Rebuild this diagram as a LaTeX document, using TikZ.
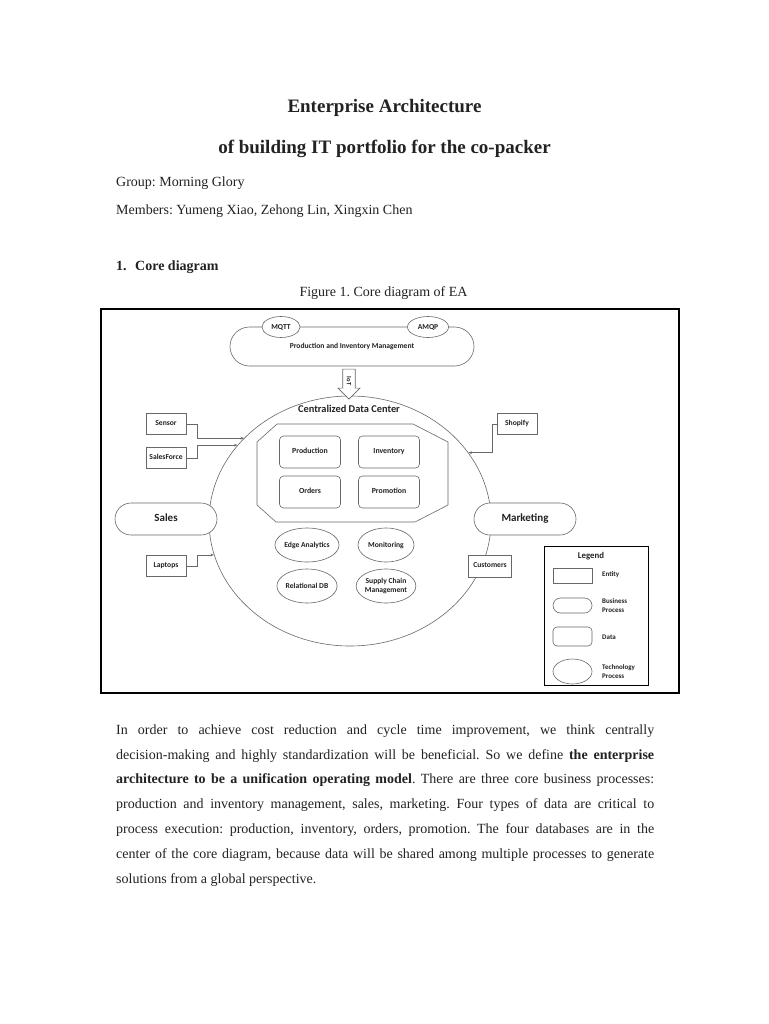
\documentclass[tikz,border=0pt]{standalone}
\usepackage{fontspec}
\setmainfont{Liberation Serif}
\newfontfamily\dfont{Carlito}
\usetikzlibrary{shapes.geometric,shapes.arrows,shapes.misc,arrows.meta}
\definecolor{linegray}{HTML}{686868}
\definecolor{ink}{HTML}{222222}
\newcommand{\dsz}[1]{\dfont\bfseries\fontsize{#1}{#1}\selectfont}
\frenchspacing
\begin{document}
\frenchspacing
\begin{tikzpicture}[x=1pt,y=-1pt,
  every node/.style={text=ink},
  pg/.style={inner sep=0pt, font=\fontsize{14}{17}\selectfont},
  pgb/.style={inner sep=0pt, font=\bfseries\fontsize{14}{17}\selectfont},
  ttl/.style={inner sep=0pt, anchor=mid, font=\bfseries\fontsize{19}{22}\selectfont},
  thin/.style={draw=linegray, line width=0.6pt},
  ent/.style={thin, fill=white, minimum width=40pt, minimum height=21pt, inner sep=0pt, text height=5.4pt, text depth=1.6pt, font=\dsz{7.6}},
  datab/.style={thin, fill=white, rounded corners=4pt, minimum width=61pt, minimum height=32pt, inner sep=0pt, text height=5.5pt, text depth=1.6pt, font=\dsz{7.8}},
  tech/.style={thin, fill=white, ellipse, minimum width=56pt, minimum height=34pt, inner sep=0pt, align=center, font=\dsz{7.6}},
  bproc/.style={thin, fill=white, rounded rectangle, minimum width=102pt, minimum height=32pt, inner sep=0pt, text height=7.8pt, text depth=2.2pt, font=\dsz{11}},
  proto/.style={thin, fill=white, ellipse, minimum height=21pt, inner sep=0pt, font=\dsz{7.6}},
  conn/.style={draw=linegray, line width=0.6pt, -{Stealth[length=3.5pt,width=2.6pt]}},
  leglab/.style={anchor=west, inner sep=0pt, align=left, font=\dfont\bfseries\fontsize{7}{9}\selectfont},
  para/.style={anchor=mid west, inner sep=0pt, font=\fontsize{14}{17}\selectfont}
]
\useasboundingbox (0,0) rectangle (768,1024);
\fill[white] (0,0) rectangle (768,1024);

% ---- page text ----
\node[ttl] (t1) at (384.5,110) {Enterprise Architecture};
\node[ttl] (t2) at (384.5,151) {of building IT portfolio for the co-packer};
\node[pg, anchor=mid west] (grp) at (116,184) {Group: Morning Glory};
\node[pg, anchor=mid west] (mem) at (116,212) {Members: Yumeng Xiao, Zehong Lin, Xingxin Chen};
\node[pgb, anchor=mid west] (secn) at (116,268) {1.};
\node[pgb, anchor=mid west] (sect) at (135,268) {Core diagram};
\node[pg, anchor=mid] (cap) at (383.5,294) {Figure 1. Core diagram of EA};

% ---- frame ----
\node[draw=black, line width=1.4pt, minimum width=578pt, minimum height=384pt, inner sep=0pt] (frame) at (390,501) {};

% ---- central data center ----
\node[thin, ellipse, minimum width=282pt, minimum height=250pt, inner sep=0pt] (dc) at (350,521) {};
\node[inner sep=0pt, font=\dsz{10.4}] (dclab) at (349,409) {Centralized Data Center};
\draw[thin] (277,424) -- (413,424) -- (448,442) -- (448,505) -- (415,522) -- (276,522) -- (257,505) -- (257,442) -- cycle;

\node[datab] (prod) at (310,452) {Production};
\node[datab] (inv) at (389,452) {Inventory};
\node[datab] (ord) at (310,492) {Orders};
\node[datab] (promo) at (389,492) {Promotion};

\node[tech] (edge) at (307,545) {Edge Analytics};
\node[tech] (mon) at (386,545) {Monitoring};
\node[tech] (rdb) at (307,586) {Relational DB};
\node[tech] (scm) at (386,586) {Supply Chain\\[1pt]Management};

% ---- top business process ----
\node[thin, fill=white, rounded rectangle, minimum width=244pt, minimum height=39pt, inner sep=0pt, font=\dsz{7.6}] (pim) at (352,346.5) {Production and Inventory Management};
\node[proto, minimum width=38pt] (mqtt) at (281,327) {MQTT};
\node[proto, minimum width=41pt] (amqp) at (428,327) {AMQP};
\node[single arrow, draw=linegray, line width=0.6pt, fill=white, rotate=-90,
      minimum height=30pt, minimum width=22pt, single arrow head extend=4.5pt,
      single arrow head indent=0pt, inner xsep=1pt, inner ysep=3.5pt,
      font=\dsz{6.5}] (iot) at (349,381) {IoT};

% ---- business processes ----
\node[bproc] (sales) at (166,519) {Sales};
\node[bproc] (mkt) at (525,519) {Marketing};

% ---- entities ----
\node[ent] (sensor) at (166,424) {Sensor};
\node[ent] (sf) at (166,458) {SalesForce};
\node[ent] (lap) at (166,566) {Laptops};
\node[ent] (shop) at (517,424) {Shopify};
\node[ent, minimum width=43pt, minimum height=22pt] (cust) at (490,566) {Customers};

\draw[conn] (sensor.east) -- ++(11,0) |- (dc.142.4);
\draw[conn] (sf.east) -- ++(11,0) |- (dc.146.4);
\draw[conn] (lap.east) -- ++(11,0) |- (dc.194.1);
\draw[conn] (shop.west) -- ++(-4,0) |- (dc.30.4);

% ---- legend ----
\node[draw=black, line width=1pt, minimum width=104pt, minimum height=139pt, inner sep=0pt] (leg) at (596,615.5) {};
\node[inner sep=0pt, font=\dsz{8.8}] (legt) at (591,556) {Legend};
\node[thin, minimum width=39pt, minimum height=15pt, inner sep=0pt] (lgent) at (572.5,575.5) {};
\node[thin, rounded rectangle, minimum width=39pt, minimum height=15pt, inner sep=0pt] (lgbp) at (572.5,605.5) {};
\node[thin, rounded corners=4pt, minimum width=39pt, minimum height=19pt, inner sep=0pt] (lgdata) at (572.5,636.5) {};
\node[thin, ellipse, minimum width=39pt, minimum height=25pt, inner sep=0pt] (lgtech) at (572.5,671.5) {};
\node[leglab] (l1) at (602,575) {Entity};
\node[leglab] (l2) at (602,606) {Business\\Process};
\node[leglab] (l3) at (602,637) {Data};
\node[leglab] (l4) at (602,672) {Technology\\Process};

% ---- paragraph ----
\node[para] (p1) at (116,732) {\makebox[538pt][s]{In order to achieve cost reduction and cycle time improvement, we think centrally}};
\node[para] (p2) at (116,756.8) {\makebox[538pt][s]{decision-making and highly standardization will be beneficial. So we define \textbf{the enterprise}}};
\node[para] (p3) at (116,781.6) {\makebox[538pt][s]{\textbf{architecture to be a unification operating model}. There are three core business processes:}};
\node[para] (p4) at (116,806.4) {\makebox[538pt][s]{production and inventory management, sales, marketing. Four types of data are critical to}};
\node[para] (p5) at (116,831.2) {\makebox[538pt][s]{process execution: production, inventory, orders, promotion. The four databases are in the}};
\node[para] (p6) at (116,856) {\makebox[538pt][s]{center of the core diagram, because data will be shared among multiple processes to generate}};
\node[para] (p7) at (116,880.8) {solutions from a global perspective.};
\end{tikzpicture}
\end{document}
